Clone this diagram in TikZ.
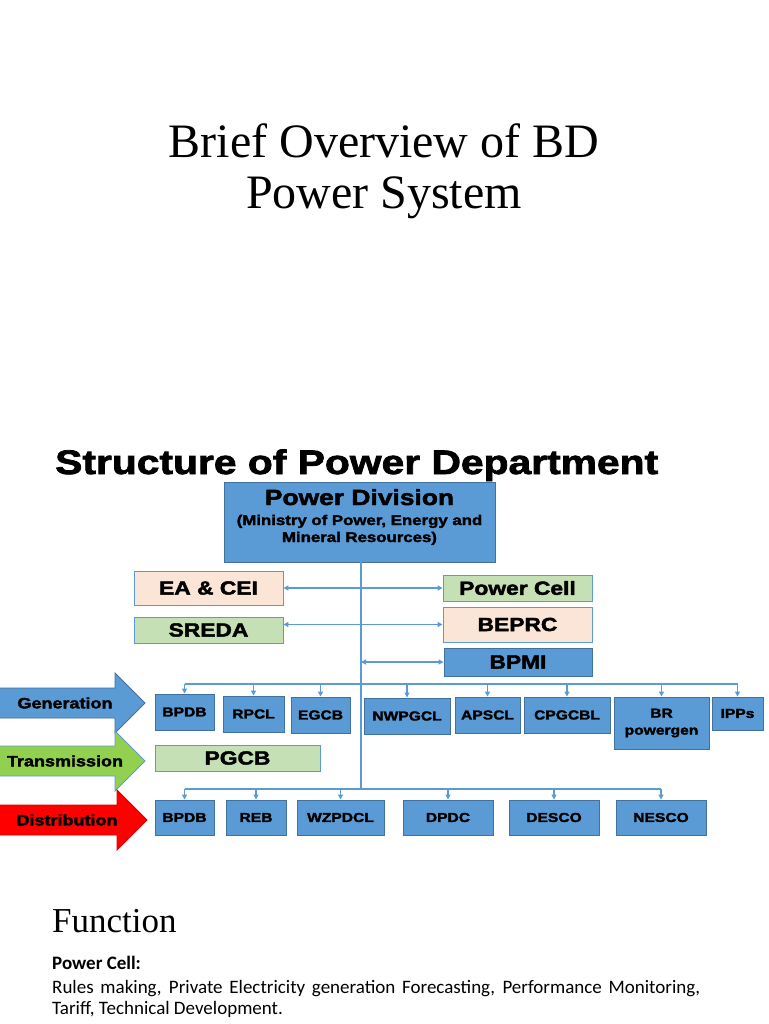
\documentclass[tikz,border=0pt]{standalone}
\usepackage{fontspec}
\usepackage{graphicx}
\usetikzlibrary{arrows.meta}
\newfontfamily\blk[BoldFeatures={FakeBold=2.2,FakeStretch=1.2}]{Liberation Sans}
\newfontfamily\tnr{Liberation Serif}
\newfontfamily\calib{Carlito}
\definecolor{bfill}{HTML}{5B9BD5}
\definecolor{bdraw}{HTML}{41719C}
\definecolor{peach}{HTML}{FBE5D6}
\definecolor{lgreen}{HTML}{C5E0B4}
\definecolor{agreen}{HTML}{92D050}
\definecolor{lineblue}{HTML}{5B9BD5}
\tikzset{
  box/.style={draw=bdraw, line width=0.9pt, inner sep=0pt, align=center, text=black},
  bluebox/.style={box, fill=bfill},
  peachbox/.style={box, fill=peach, draw=bfill},
  greenbox/.style={box, fill=lgreen, draw=bfill},
  big/.style={font=\blk\bfseries\fontsize{19}{22}\selectfont},
  small/.style={font=\blk\bfseries\fontsize{13}{17}\selectfont},
  ln/.style={draw=lineblue, line width=1.8pt},
  arr/.style={ln, -{Triangle[length=5pt,width=5pt]}},
  dbl/.style={ln, {Triangle[length=5pt,width=5pt]}-{Triangle[length=5pt,width=5pt]}},
  bigarrow/.style={line width=0.8pt},
  alabel/.style={font=\blk\bfseries\fontsize{15}{18}\selectfont, inner sep=0pt}
}
\begin{document}
\begin{tikzpicture}[x=1pt,y=-1pt]
\useasboundingbox[fill=white] (0,0) rectangle (768,1024);

% titles
\node[font=\tnr\fontsize{48}{51}\selectfont, align=center, inner sep=0pt] (title) at (384,171) {Brief Overview of BD\\Power System};
\node[inner sep=0pt, anchor=base west] (struct) at (55,474) {\resizebox{603pt}{\height}{\blk\bfseries\fontsize{34}{40}\selectfont Structure of Power Department}};

% top box
\node[bluebox, minimum width=271pt, minimum height=80pt] (pd) at (359.5,522) {};
\node[font=\blk\bfseries\fontsize{22}{24}\selectfont, inner sep=0pt, anchor=base] (pdt) at (359.5,505) {Power Division};
\node[font=\blk\bfseries\fontsize{14}{17}\selectfont, inner sep=0pt, anchor=base, align=center] (pds) at (359.5,542) {(Ministry of Power, Energy and\\Mineral Resources)};

% side boxes
\node[peachbox, big, minimum width=149pt, minimum height=34pt] (ea) at (208.5,588) {EA \& CEI};
\node[greenbox, big, minimum width=149pt, minimum height=26pt] (pc) at (517.5,588) {Power Cell};
\node[greenbox, big, minimum width=149pt, minimum height=26pt] (sreda) at (208.5,630) {SREDA};
\node[peachbox, big, minimum width=149pt, minimum height=35pt] (beprc) at (517.5,624.5) {BEPRC};
\node[bluebox, big, minimum width=148pt, minimum height=28pt] (bpmi) at (518,662) {BPMI};

% generation boxes
\node[bluebox, small, minimum width=59pt, minimum height=36pt] (g1) at (184.5,712) {BPDB};
\node[bluebox, small, minimum width=61pt, minimum height=36pt] (g2) at (253.5,714) {RPCL};
\node[bluebox, small, minimum width=59pt, minimum height=36pt] (g3) at (320.5,715) {EGCB};
\node[bluebox, small, minimum width=86pt, minimum height=36pt] (g4) at (407,716) {NWPGCL};
\node[bluebox, small, minimum width=65pt, minimum height=36pt] (g5) at (487.5,715) {APSCL};
\node[bluebox, small, minimum width=86pt, minimum height=36pt] (g6) at (567,715) {CPGCBL};
\node[bluebox, small, minimum width=95pt, minimum height=52pt] (g7) at (661.5,723) {BR\\powergen};
\node[bluebox, small, minimum width=51pt, minimum height=33pt] (g8) at (737.5,713.5) {IPPs};

% transmission
\node[greenbox, big, minimum width=165pt, minimum height=26pt] (pgcb) at (237.5,758) {PGCB};

% distribution boxes
\node[bluebox, small, minimum width=59pt, minimum height=35pt] (d1) at (184.5,817.5) {BPDB};
\node[bluebox, small, minimum width=60pt, minimum height=35pt] (d2) at (256,817.5) {REB};
\node[bluebox, small, minimum width=87pt, minimum height=35pt] (d3) at (340.5,817.5) {WZPDCL};
\node[bluebox, small, minimum width=90pt, minimum height=35pt] (d4) at (448,817.5) {DPDC};
\node[bluebox, small, minimum width=90pt, minimum height=35pt] (d5) at (554,817.5) {DESCO};
\node[bluebox, small, minimum width=90pt, minimum height=35pt] (d6) at (661,817.5) {NESCO};

% connectors
\coordinate (gbus) at (361,684);
\coordinate (dbus) at (361,789);
\draw[ln] (pd.south -| gbus) -- (dbus);
\draw[dbl] (ea.east) -- (pc.west);
\draw[dbl] (sreda.east |- beprc.west) -- (beprc.west);
\draw[dbl] (gbus |- bpmi.west) -- (bpmi.west);
\draw[ln] (g1 |- gbus) -- (g8 |- gbus);
\foreach \n in {g1,g2,g3,g4,g5,g6,g7,g8}{\draw[arr] (\n |- gbus) -- (\n.north);}
\draw[ln] (d1 |- dbus) -- (d6 |- dbus);
\foreach \n in {d1,d2,d3,d4,d5,d6}{\draw[arr] (\n |- dbus) -- (\n.north);}

% left block arrows
\draw[bigarrow, fill=bfill, draw=bdraw] (-1,688) -- (115,688) -- (115,673) -- (145,703) -- (115,733) -- (115,718) -- (-1,718) -- cycle;
\node[alabel] (gen) at (65,703) {Generation};
\draw[bigarrow, fill=agreen, draw=bfill] (-1,746) -- (115,746) -- (115,731) -- (145,761) -- (115,791) -- (115,776) -- (-1,776) -- cycle;
\node[alabel] (tra) at (65,761) {Transmission};
\draw[bigarrow, fill=red, draw=red!85!black] (-1,805) -- (117,805) -- (117,790) -- (147,820) -- (117,850) -- (117,835) -- (-1,835) -- cycle;
\node[alabel] (dis) at (67,820) {Distribution};

% function text
\node[font=\tnr\fontsize{35}{40}\selectfont, inner sep=0pt, anchor=base west] (fn) at (52,932) {Function};
\node[font=\calib\bfseries\fontsize{19}{21}\selectfont, inner sep=0pt, anchor=base west] (pcl) at (52,969) {Power Cell:};
\node[font=\calib\fontsize{19}{21}\selectfont, inner sep=0pt, anchor=north west, text width=648pt, align=justify] (body) at (52,980) {Rules making, Private Electricity generation Forecasting, Performance Monitoring,\linebreak Tariff, Technical Development.};
\end{tikzpicture}
\end{document}
